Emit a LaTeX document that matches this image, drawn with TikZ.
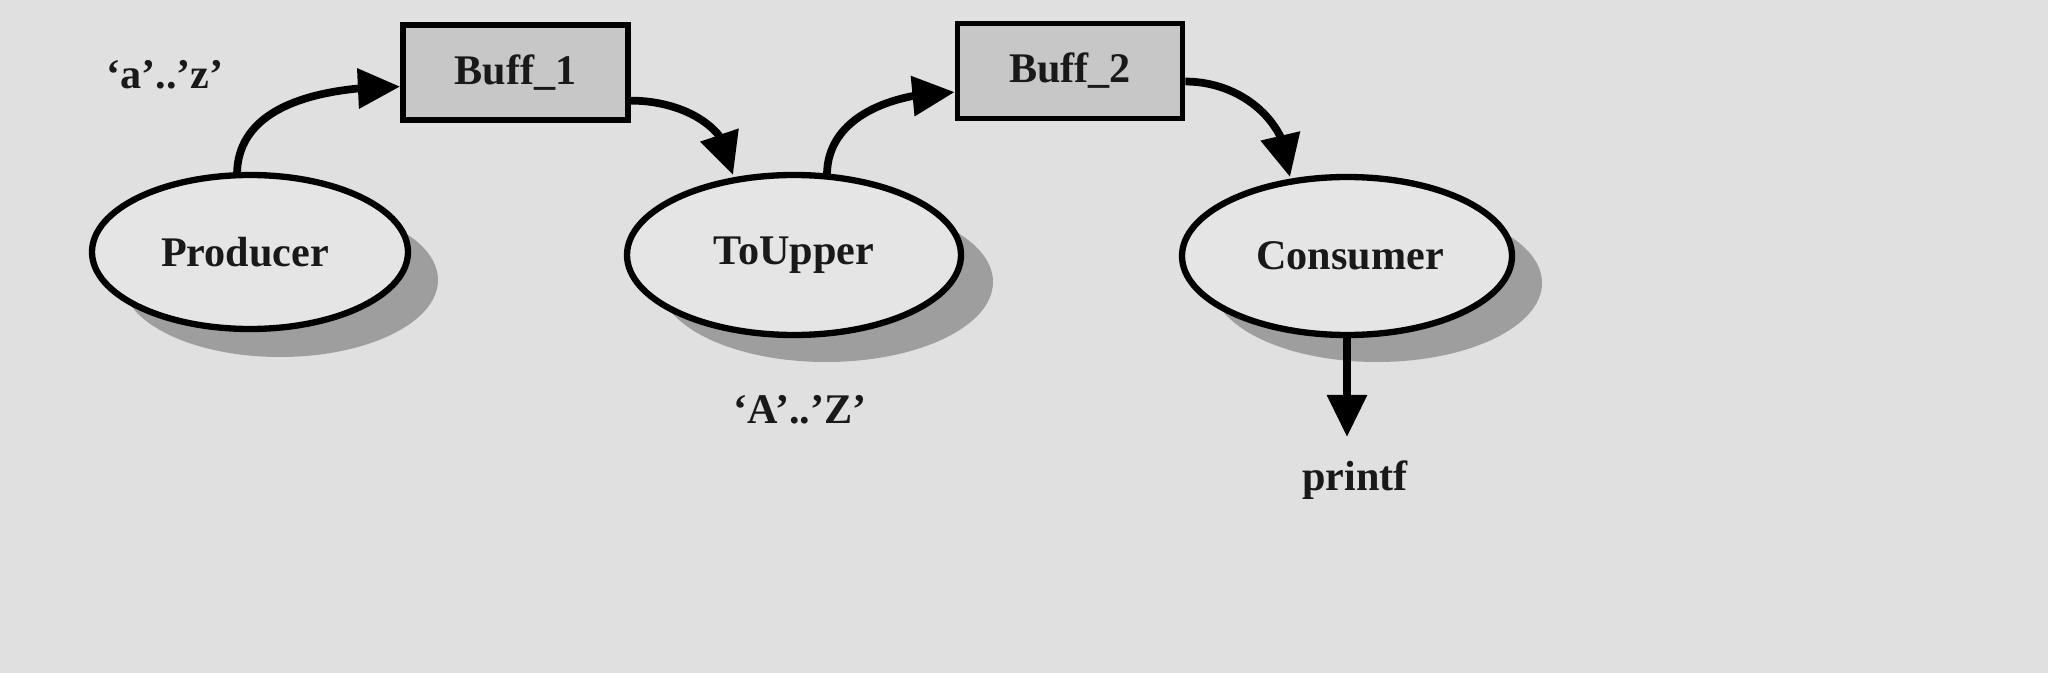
\documentclass[tikz,border=0pt]{standalone}
\usepackage{fontspec}
\setmainfont{Liberation Serif}
\usetikzlibrary{arrows.meta,bending}
\begin{document}
\begin{tikzpicture}[x=0.01cm,y=-0.01cm,
  every node/.style={font=\fontsize{12}{14}\selectfont\bfseries, text=black!90},
  buff/.style={draw=black, line width=1.6pt, fill=black!22, minimum width=2.25cm, minimum height=0.95cm},
  arr/.style={line width=2.2pt, -{Triangle[length=12pt,width=11pt,flex=1]}}]
\fill[black!12] (0,0) rectangle (2048,673);
\useasboundingbox (0,0) rectangle (2048,673);
% shadows
\fill[black!38] (280,280) ellipse [x radius=158, y radius=77];
\fill[black!38] (826,282) ellipse [x radius=167, y radius=80];
\fill[black!38] (1377,283) ellipse [x radius=165, y radius=79];
% ellipses
\draw[line width=1.8pt, fill=black!10] (250,252) ellipse [x radius=158, y radius=77];
\draw[line width=1.8pt, fill=black!10] (794,255) ellipse [x radius=167, y radius=80];
\draw[line width=1.8pt, fill=black!10] (1347,256) ellipse [x radius=165, y radius=79];
\node (prod) at (245,252) {Producer};
\node (toup) at (794,255) {ToUpper};
\node (cons) at (1350,256) {Consumer};
\coordinate (prodtop) at (237,175);
\coordinate (touptopin) at (733,175);
\coordinate (touptopout) at (827,175);
\coordinate (constopin) at (1290,177);
\coordinate (consbot) at (1347,335);
\coordinate (printfarr) at (1347,437);
\node[buff] (b1) at (515.5,72.5) {Buff\_1};
\node[buff] (b2) at (1070,71) {Buff\_2};
\node (az) at (165,75) {‘a’..’z’};
\node (AZ) at (800,410) {‘A’..’Z’};
\node (pf) at (1355,480) {printf};
\draw[arr] (prodtop) to[out=90,in=180] ([yshift=-4]b1.west);
\draw[arr] ([yshift=-8]b1.east) to[out=0,in=90] (touptopin);
\draw[arr] (touptopout) to[out=90,in=180] ([yshift=-6]b2.west);
\draw[arr] ([yshift=-3]b2.east) to[out=0,in=90] (constopin);
\draw[arr] (consbot) -- (printfarr);
\end{tikzpicture}
\end{document}
